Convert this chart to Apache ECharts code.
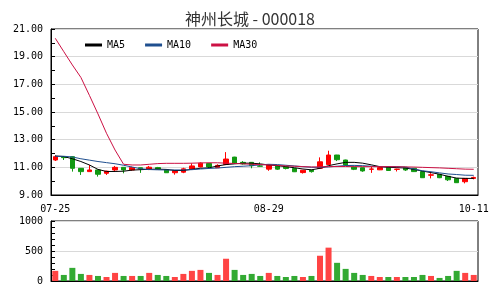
<!DOCTYPE html>
<html>
<head>
<meta charset="utf-8">
<script src="https://cdn.jsdelivr.net/npm/echarts@6/dist/echarts.min.js"></script>
<style>
html,body{margin:0;padding:0;background:#fff;}
#c{width:500px;height:300px;}
</style>
</head>
<body>
<div id="c"></div>
<script>
var title = '神州长城 - 000018';
var dates = ['07-25','07-26','07-29','07-30','07-31','08-01','08-02','08-05','08-06','08-07',
  '08-08','08-09','08-12','08-13','08-14','08-15','08-16','08-19','08-20','08-21',
  '08-22','08-23','08-26','08-27','08-28','08-29','08-30','09-02','09-03','09-04',
  '09-05','09-06','09-09','09-10','09-11','09-12','09-13','09-16','09-17','09-18',
  '09-23','09-24','09-25','09-26','09-27','09-30','10-08','10-09','10-10','10-11'];
var shownDates = ['07-25','08-29','10-11'];
var opens  = [11.53,11.75,11.77,10.93,10.69,10.81,10.57,10.81,11.00,10.81,
  10.97,10.86,10.98,10.82,10.61,10.65,10.86,11.03,11.28,10.97,
  11.21,11.74,11.36,11.36,11.10,10.87,11.12,11.04,10.92,10.62,
  10.80,10.93,11.20,11.89,11.53,11.02,10.97,10.86,10.82,11.03,
  10.85,11.00,10.93,10.69,10.43,10.50,10.35,10.20,9.96,10.20];
var closes = [11.77,11.70,10.93,10.69,10.81,10.50,10.72,11.00,10.81,10.98,
  10.90,11.01,10.88,10.61,10.77,10.89,11.10,11.30,11.03,11.14,
  11.60,11.30,11.25,11.12,11.08,11.16,10.87,10.92,10.68,10.79,
  10.69,11.40,11.89,11.55,11.17,10.86,10.74,10.88,10.98,10.77,
  10.87,10.81,10.69,10.25,10.46,10.25,10.10,9.89,10.20,10.27];
var lows   = [11.46,11.53,10.69,10.45,10.69,10.33,10.45,10.73,10.57,10.76,
  10.60,10.80,10.85,10.60,10.47,10.58,10.84,11.00,10.93,10.95,
  11.18,11.28,11.20,10.93,11.05,10.75,10.82,10.85,10.66,10.55,
  10.62,10.90,11.15,11.45,11.10,10.80,10.68,10.60,10.80,10.75,
  10.70,10.74,10.67,10.23,10.20,10.22,10.01,9.87,9.84,10.13];
var highs  = [11.87,11.78,11.80,10.95,11.17,10.81,10.76,11.10,11.00,11.05,
  10.98,11.10,11.03,10.85,10.78,10.97,11.29,11.36,11.30,11.22,
  12.10,11.76,11.45,11.38,11.36,11.17,11.13,11.05,10.94,10.80,
  10.82,11.72,12.20,11.90,11.55,11.04,10.98,11.05,11.00,11.05,
  10.90,11.02,10.95,10.70,10.58,10.52,10.36,10.21,10.21,10.33];
var volumes = [169,101,219,118,101,84,67,135,84,84,
  84,135,101,84,67,118,169,185,135,101,
  371,185,101,118,84,135,84,67,84,67,
  84,421,556,303,202,135,101,84,67,67,
  67,67,67,101,84,51,84,169,135,101];
var ma5  = [11.82,11.78,11.62,11.42,11.17,10.85,10.70,10.70,10.72,10.80,
  10.83,10.86,10.87,10.85,10.77,10.77,10.86,10.93,10.96,11.10,
  11.20,11.25,11.30,11.30,11.25,11.17,11.12,11.05,10.97,10.88,
  10.82,10.93,11.12,11.25,11.36,11.36,11.30,11.18,11.05,11.00,
  10.98,10.95,10.85,10.73,10.62,10.50,10.35,10.22,10.20,10.20];
var ma10 = [11.80,11.80,11.75,11.62,11.52,11.42,11.34,11.26,11.15,11.02,
  10.90,10.84,10.82,10.81,10.81,10.81,10.83,10.88,10.92,10.95,
  11.00,11.05,11.08,11.12,11.18,11.22,11.20,11.15,11.10,11.05,
  11.00,11.00,11.03,11.08,11.13,11.14,11.12,11.08,11.05,11.05,
  11.05,11.02,10.88,10.75,10.68,10.60,10.52,10.48,10.43,10.42];
var ma30 = [20.33,19.36,18.40,17.50,16.20,14.86,13.46,12.25,11.22,11.17,
  11.17,11.22,11.27,11.29,11.29,11.29,11.30,11.32,11.33,11.33,
  11.30,11.28,11.25,11.22,11.20,11.17,11.14,11.10,11.08,11.05,
  11.03,11.03,11.05,11.06,11.06,11.05,11.05,11.05,11.05,11.05,
  11.04,11.03,11.02,11.00,10.98,10.96,10.93,10.90,10.87,10.86];

var UP = '#ff0000', DOWN = '#119911';
var VUP = '#ff4444', VDOWN = '#33aa33';
var MONO = 'DejaVu Sans Mono';

var kdata = dates.map(function(d, i){ return [opens[i], closes[i], lows[i], highs[i]]; });
var vdata = volumes.map(function(v, i){
  return {value: v, itemStyle: {color: closes[i] >= opens[i] ? VUP : VDOWN}};
});

var chart = echarts.init(document.getElementById('c'), null, {renderer: 'canvas'});
chart.setOption({
  animation: false,
  backgroundColor: '#fff',
  title: {
    text: title, left: 'center', top: 6,
    textStyle: {fontFamily: 'Noto Sans CJK SC', fontSize: 16, fontWeight: 'normal', color: '#333'}
  },
  legend: {
    left: 80, top: 35, icon: 'rect', itemWidth: 17, itemHeight: 3, itemGap: 20,
    textStyle: {fontFamily: MONO, fontSize: 10, color: '#000'},
    data: ['MA5', 'MA10', 'MA30']
  },
  grid: [
    {left: 51, right: 22, top: 29, height: 166, show: true, borderColor: '#000', borderWidth: 1},
    {left: 51, right: 22, top: 221, height: 60, show: true, borderColor: '#000', borderWidth: 1}
  ],
  xAxis: [
    {type: 'category', gridIndex: 0, data: dates, boundaryGap: true,
     axisLine: {lineStyle: {color: '#000'}}, axisTick: {show: false},
     axisLabel: {color: '#000', fontFamily: MONO, fontSize: 10, margin: 9,
       interval: function(i, v){ return shownDates.indexOf(v) >= 0; }},
     splitLine: {show: false}},
    {type: 'category', gridIndex: 1, data: dates, boundaryGap: true,
     axisLine: {lineStyle: {color: '#000'}}, axisTick: {show: false},
     axisLabel: {show: false}, splitLine: {show: false}}
  ],
  yAxis: [
    {type: 'value', gridIndex: 0, min: 9, max: 21, interval: 2,
     axisLine: {show: true, lineStyle: {color: '#000'}},
     axisTick: {show: true, inside: true, length: 4, lineStyle: {color: '#000'}},
     minorTick: {show: true, splitNumber: 2, length: 4, lineStyle: {color: '#000'}},
     axisLabel: {color: '#000', fontFamily: MONO, fontSize: 10, margin: 8,
       formatter: function(v){ return v.toFixed(2); }},
     splitLine: {show: true, lineStyle: {color: '#d9d9d9', width: 1}}},
    {type: 'value', gridIndex: 1, min: 0, max: 1000, interval: 500,
     axisLine: {show: true, lineStyle: {color: '#000'}},
     axisTick: {show: true, inside: true, length: 4, lineStyle: {color: '#000'}},
     minorTick: {show: true, splitNumber: 5, length: 4, lineStyle: {color: '#000'}},
     axisLabel: {color: '#000', fontFamily: MONO, fontSize: 10, margin: 8,
       formatter: function(v){ return String(v); }},
     splitLine: {show: true, lineStyle: {color: '#d9d9d9', width: 1}}}
  ],
  series: [
    {type: 'candlestick', name: 'K', xAxisIndex: 0, yAxisIndex: 0, data: kdata, barWidth: 5,
     itemStyle: {color: UP, color0: DOWN, borderColor: UP, borderColor0: DOWN, borderWidth: 1}},
    {type: 'line', name: 'MA5', xAxisIndex: 0, yAxisIndex: 0, data: ma5, symbol: 'none',
     lineStyle: {width: 1, color: '#000000'}, itemStyle: {color: '#000000'}},
    {type: 'line', name: 'MA10', xAxisIndex: 0, yAxisIndex: 0, data: ma10, symbol: 'none',
     lineStyle: {width: 1, color: '#1f4f8f'}, itemStyle: {color: '#1f4f8f'}},
    {type: 'line', name: 'MA30', xAxisIndex: 0, yAxisIndex: 0, data: ma30, symbol: 'none',
     lineStyle: {width: 1, color: '#cc1144'}, itemStyle: {color: '#cc1144'}},
    {type: 'bar', name: 'VOL', xAxisIndex: 1, yAxisIndex: 1, data: vdata, barWidth: 6}
  ]
});
</script>
</body>
</html>
